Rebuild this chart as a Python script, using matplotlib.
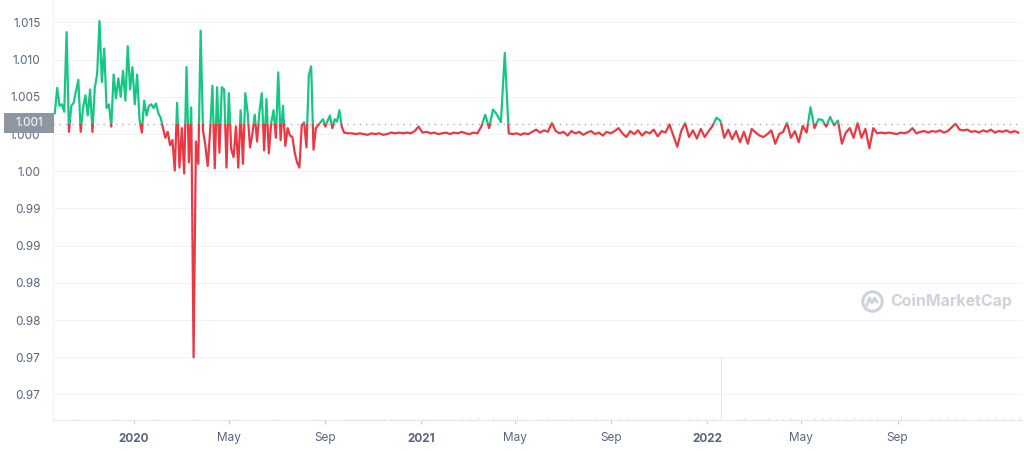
import matplotlib

matplotlib.use("Agg")
import matplotlib.dates as mdates
import matplotlib.pyplot as plt
import pandas as pd
from matplotlib.lines import Line2D
from matplotlib.patches import Rectangle

GREEN = "#16c784"
RED = "#ea3943"
GREY_TEXT = "#58667e"
W, H = 1024, 451

# first year is volatile: price every 3 days
EARLY_START = "2019-09-22"
EARLY_PRICE = [
    1.0028, 1.0062, 1.0038, 1.0040, 1.0030, 1.0137, 1.0003, 1.0038, 1.0042, 1.0058,
    1.0073, 1.0003, 1.0035, 1.0052, 1.0025, 1.0060, 1.0003, 1.0062, 1.0081, 1.0152,
    1.0070, 1.0115, 1.0035, 1.0040, 1.0010, 1.0080, 1.0048, 1.0075, 1.0050, 1.0085,
    1.0045, 1.0118, 1.0060, 1.0090, 1.0040, 1.0080, 1.0020, 1.0002, 1.0045, 1.0025,
    1.0038, 1.0040, 1.0035, 1.0041, 1.0028, 1.0022, 1.0008, 0.9995, 1.0003, 0.9985,
    0.9992, 0.9951, 1.0042, 0.9955, 1.0008, 0.9947, 1.0090, 0.9962, 1.0036, 0.9700,
    0.9990, 0.9960, 1.0139, 1.0005, 0.9985, 0.9957, 1.0002, 1.0065, 0.9954, 1.0063,
    0.9975, 1.0063, 1.0060, 0.9955, 1.0055, 0.9980, 0.9969, 1.0010, 0.9955, 1.0032,
    0.9960, 1.0055, 1.0028, 0.9982, 1.0000, 1.0026, 0.9990, 1.0030, 1.0055, 0.9978,
    1.0047, 0.9974, 1.0015, 1.0032, 0.9995, 1.0083, 0.9992, 1.0038, 0.9984, 1.0008,
    0.9998, 0.9996, 0.9975, 0.9962, 0.9955, 1.0012, 1.0016, 0.9982, 1.0079, 1.0091,
    0.9979, 1.0008, 1.0012, 1.0016, 1.0020, 1.0010, 1.0018, 1.0025, 1.0008, 1.0020,
    1.0017, 1.0032, 1.0010, 1.0002,
]

# calmer after Sep 2020: price every 5 days
LATE_START = "2020-09-30"
LATE_PRICE = [
    1.0001, 1.0001, 1.0000, 1.0001, 1.0000, 0.9999, 1.0001, 1.0000, 1.0001, 0.9999,
    1.0000, 1.0002, 1.0001, 1.0002, 1.0001, 1.0002, 1.0001, 1.0004, 1.0010, 1.0002,
    1.0003, 1.0001, 1.0002, 1.0000, 1.0001, 1.0002, 1.0000, 1.0002, 1.0001, 1.0003,
    1.0001, 1.0000, 1.0002, 1.0001, 1.0010, 1.0026, 1.0008, 1.0033, 1.0026, 1.0016,
    1.0109, 1.0001, 1.0000, 1.0001, 0.9999, 1.0001, 1.0000, 1.0003, 1.0006, 1.0002,
    1.0005, 1.0003, 1.0015, 1.0004, 1.0001, 1.0003, 0.9998, 1.0004, 1.0001, 1.0003,
    0.9999, 1.0002, 1.0004, 1.0000, 1.0002, 0.9998, 1.0003, 1.0001, 1.0004, 1.0008,
    1.0001, 0.9996, 1.0004, 1.0000, 1.0005, 0.9998, 1.0003, 1.0001, 1.0006, 0.9997,
    1.0004, 1.0002, 1.0013, 0.9998, 0.9983, 1.0004, 1.0015, 0.9996, 1.0005, 0.9994,
    1.0007, 0.9996, 1.0004, 1.0011, 1.0022, 1.0018, 0.9995, 1.0006, 0.9993, 1.0004,
    0.9989, 1.0003, 0.9987, 1.0007, 1.0002, 0.9998, 0.9996, 1.0000, 1.0005, 0.9987,
    1.0000, 1.0003, 1.0015, 0.9995, 1.0004, 0.9989, 1.0011, 1.0002, 1.0036, 1.0008,
    1.0020, 1.0019, 1.0010, 1.0023, 1.0012, 1.0018, 0.9987, 1.0002, 1.0008, 0.9995,
    1.0015, 0.9995, 1.0007, 0.9981, 1.0008, 1.0001, 1.0002, 1.0001, 1.0002, 1.0001,
    1.0000, 1.0002, 1.0001, 1.0003, 1.0008, 1.0001, 1.0003, 1.0004, 1.0002, 1.0004,
    1.0003, 1.0005, 1.0002, 1.0004, 1.0009, 1.0014, 1.0006, 1.0005, 1.0006, 1.0003,
    1.0004, 1.0002, 1.0005, 1.0003, 1.0006, 1.0002, 1.0004, 1.0003, 1.0005, 1.0002,
    1.0004, 1.0002,
]

# volume (billions), every 10 days
VOLUME_START = "2019-09-22"
VOLUME = [
    0.05, 0.04, 0.05, 0.06, 0.05, 0.04, 0.05, 0.05, 0.06, 0.05,
    0.04, 0.05, 0.05, 0.06, 0.05, 0.04, 0.05, 0.05, 0.06, 0.05,
    0.04, 0.05, 0.05, 0.06, 0.05, 0.04, 0.05, 0.05, 0.06, 0.05,
    0.04, 0.05, 0.05, 0.06, 0.05, 0.04, 0.05, 0.10, 0.09, 0.10,
    0.11, 0.10, 0.09, 0.10, 0.11, 0.10, 0.09, 0.10, 0.11, 0.10,
    0.09, 0.10, 0.25, 0.22, 0.26, 0.24, 0.27, 0.25, 0.23, 0.26,
    0.24, 0.15, 0.14, 0.16, 0.15, 0.14, 0.16, 0.15, 0.14, 0.16,
    0.15, 0.20, 0.19, 0.21, 0.20, 0.19, 0.21, 0.20, 0.19, 0.21,
    0.20, 0.19, 0.21, 0.20, 0.19, 6.30, 0.15, 0.14, 0.16, 0.15,
    0.14, 0.16, 0.15, 0.14, 0.16, 0.15, 0.14, 0.25, 0.24, 0.26,
    0.25, 0.24, 0.26, 0.25, 0.24, 0.26, 0.25, 0.24, 0.26, 0.25,
    0.24, 0.26, 0.25, 0.24, 0.26, 0.25, 0.24, 0.26, 0.25, 0.24,
    0.26, 0.25, 0.24, 0.26, 0.25,
]

BASELINE = 1.0013
BASELINE_LABEL = "1.001"
Y_TICKS = [1.015, 1.010, 1.005, 1.000, 0.995, 0.990, 0.985, 0.980, 0.975, 0.970, 0.965]
Y_TICK_LABELS = ["1.015", "1.010", "1.005", "1.000", "1.00", "0.99", "0.99", "0.98", "0.98", "0.97", "0.97"]
Y_MIN, Y_MAX = 0.96157, 1.01802
X_TICKS = ["2020-01-01", "2020-05-01", "2020-09-01", "2021-01-01", "2021-05-01",
           "2021-09-01", "2022-01-01", "2022-05-01", "2022-09-01"]
X_TICK_LABELS = ["2020", "May", "Sep", "2021", "May", "Sep", "2022", "May", "Sep"]
X_MIN, X_MAX = pd.Timestamp("2019-09-19 16:00"), pd.Timestamp("2023-02-06 18:00")


def main() -> None:
    plt.rcParams["font.family"] = ["Inter", "DejaVu Sans"]

    early_dates = pd.date_range(EARLY_START, periods=len(EARLY_PRICE), freq="3D")
    late_dates = pd.date_range(LATE_START, periods=len(LATE_PRICE), freq="5D")
    dates = early_dates.append(late_dates)
    prices = EARLY_PRICE + LATE_PRICE
    vol_dates = pd.date_range(VOLUME_START, periods=len(VOLUME), freq="10D")

    fig = plt.figure(figsize=(W / 100, H / 100), dpi=100)
    ax = fig.add_axes([53 / W, 31 / H, 969 / W, 420 / H])
    ax_vol = ax.twinx()
    ax.set_zorder(ax_vol.get_zorder() + 1)
    ax.patch.set_visible(False)

    ax_vol.bar(vol_dates, VOLUME, width=1.2, color="#e2e5ea", linewidth=0)
    ax_vol.set_ylim(0, 42)
    ax_vol.axis("off")

    ax.set_xlim(X_MIN, X_MAX)
    ax.set_ylim(Y_MIN, Y_MAX)

    for t in Y_TICKS:
        ax.axhline(t, color="#f1f3f6", lw=0.8, zorder=0)
    ax.axhline(BASELINE, color="#a9b1c0", lw=1.0, ls=(0, (1, 3.5)), zorder=1)

    green_line, = ax.plot(dates, prices, color=GREEN, lw=1.6, zorder=3)
    red_line, = ax.plot(dates, prices, color=RED, lw=1.6, zorder=3)
    xn0, xn1 = mdates.date2num(X_MIN), mdates.date2num(X_MAX)
    above = Rectangle((xn0, BASELINE), xn1 - xn0, 1.0, transform=ax.transData)
    below = Rectangle((xn0, BASELINE - 1.0), xn1 - xn0, 1.0, transform=ax.transData)
    green_line.set_clip_path(above)
    red_line.set_clip_path(below)

    ax.set_yticks(Y_TICKS, Y_TICK_LABELS)
    ax.tick_params(axis="y", length=0, pad=9, labelsize=8.5, labelcolor=GREY_TEXT)
    ax.set_xticks(pd.to_datetime(X_TICKS), X_TICK_LABELS)
    ax.tick_params(axis="x", length=3, width=0.8, color="#c4cad6", pad=6,
                   labelsize=8.5, labelcolor=GREY_TEXT)
    for lbl in ax.get_xticklabels():
        if lbl.get_text().isdigit():
            lbl.set_fontweight("bold")

    for side in ("top", "right"):
        ax.spines[side].set_visible(False)
    ax.spines["left"].set_color("#f1f3f6")
    ax.spines["bottom"].set_color("#e3e7ee")

    # current-price tag on the y axis
    fig.add_artist(Rectangle((4 / W, (H - 133) / H), 50 / W, 20 / H, transform=fig.transFigure,
                             facecolor="#8e96a4", edgecolor="none", zorder=5))
    fig.text(29 / W, (H - 123.5) / H, BASELINE_LABEL, ha="center", va="center",
             color="white", fontsize=8.5, zorder=6)

    # watermark
    cx, cy = 872, 301
    fig.add_artist(Line2D([cx / W], [(H - cy) / H], marker="o", markersize=14, mfc="none",
                          mec="#cdd2db", mew=2.2, transform=fig.transFigure, zorder=2))
    wave_x = [cx - 5, cx - 2.5, cx, cx + 2.5, cx + 5]
    wave_y = [cy + 4, cy - 3, cy + 2, cy - 3, cy + 1]
    fig.add_artist(Line2D([x / W for x in wave_x], [(H - y) / H for y in wave_y],
                          color="#cdd2db", lw=2.0, transform=fig.transFigure, zorder=2))
    fig.text(890 / W, (H - cy) / H, "CoinMarketCap", ha="left", va="center",
             color="#cdd2db", fontsize=11.5, fontweight="bold", zorder=2)

    fig.savefig("out.png", dpi=100)
    plt.close(fig)


if __name__ == "__main__":
    main()
